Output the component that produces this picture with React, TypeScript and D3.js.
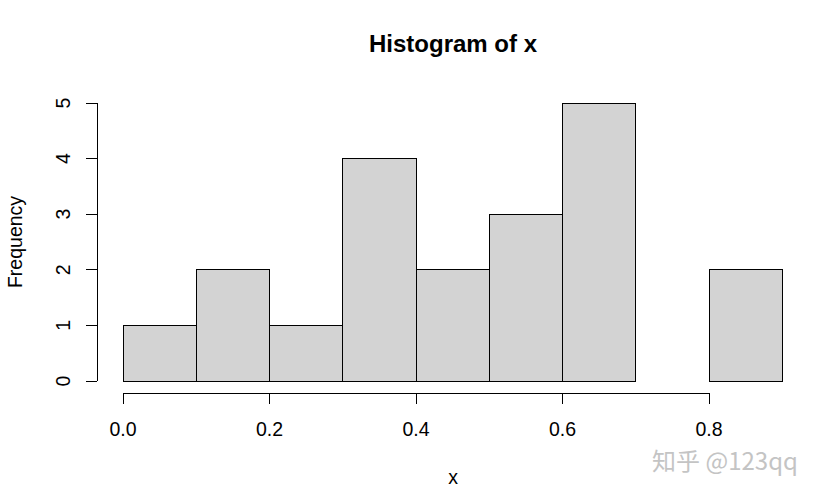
import * as d3 from 'd3';

const binEdges = [0, 0.1, 0.2, 0.3, 0.4, 0.5, 0.6, 0.7, 0.8, 0.9];
const counts = [1, 2, 1, 4, 2, 3, 5, 0, 2];
const xTicks = [0, 0.2, 0.4, 0.6, 0.8];
const yTicks = [0, 1, 2, 3, 4, 5];

export default function App() {
  const width = 821;
  const height = 497;
  const font = '"Liberation Sans", Arial, sans-serif';

  const x = d3.scaleLinear().domain([0, 0.8]).range([123, 709]);
  const y = d3.scaleLinear().domain([0, 5]).range([381, 103]);

  const bins = counts.map((c, i) => ({ x0: binEdges[i], x1: binEdges[i + 1], count: c }));
  const axisY = 393;
  const axisX = 97;

  return (
    <svg
      width={width}
      height={height}
      style={{ position: 'absolute', left: 0, top: 0, background: '#fff' }}
      fontFamily={font}
    >
      <rect width={width} height={height} fill="#fff" />
      {/* bars */}
      {bins.map((b, i) => (
        <rect
          key={i}
          x={x(b.x0)}
          y={y(b.count)}
          width={x(b.x1) - x(b.x0)}
          height={y(0) - y(b.count)}
          fill="#d3d3d3"
          stroke="#000"
          strokeWidth={1}
          shapeRendering="crispEdges"
        />
      ))}
      {/* x axis */}
      <line x1={x(0)} x2={x(0.8)} y1={axisY} y2={axisY} stroke="#000" shapeRendering="crispEdges" />
      {xTicks.map((t) => (
        <g key={t}>
          <line x1={x(t)} x2={x(t)} y1={axisY} y2={axisY + 11} stroke="#000" shapeRendering="crispEdges" />
          <text x={x(t)} y={436} textAnchor="middle" fontSize={19.5}>
            {d3.format('.1f')(t)}
          </text>
        </g>
      ))}
      {/* y axis */}
      <line x1={axisX} x2={axisX} y1={y(0)} y2={y(5)} stroke="#000" shapeRendering="crispEdges" />
      {yTicks.map((t) => (
        <g key={t}>
          <line x1={axisX - 11} x2={axisX} y1={y(t)} y2={y(t)} stroke="#000" shapeRendering="crispEdges" />
          <text
            transform={`translate(70,${y(t)}) rotate(-90)`}
            textAnchor="middle"
            fontSize={19.5}
          >
            {t}
          </text>
        </g>
      ))}
      {/* titles */}
      <text x={453} y={52} textAnchor="middle" fontSize={24} fontWeight="bold">
        Histogram of x
      </text>
      <text x={453} y={484} textAnchor="middle" fontSize={19.5}>
        x
      </text>
      <text transform={`translate(22,${y(2.5)}) rotate(-90)`} textAnchor="middle" fontSize={19.5}>
        Frequency
      </text>
      {/* watermark */}
      <text
        x={725}
        y={470}
        textAnchor="middle"
        fontSize={24}
        fill="#c4c4c4"
        fontFamily='"Noto Sans CJK SC", sans-serif'
      >
        知乎 @123qq
      </text>
    </svg>
  );
}
